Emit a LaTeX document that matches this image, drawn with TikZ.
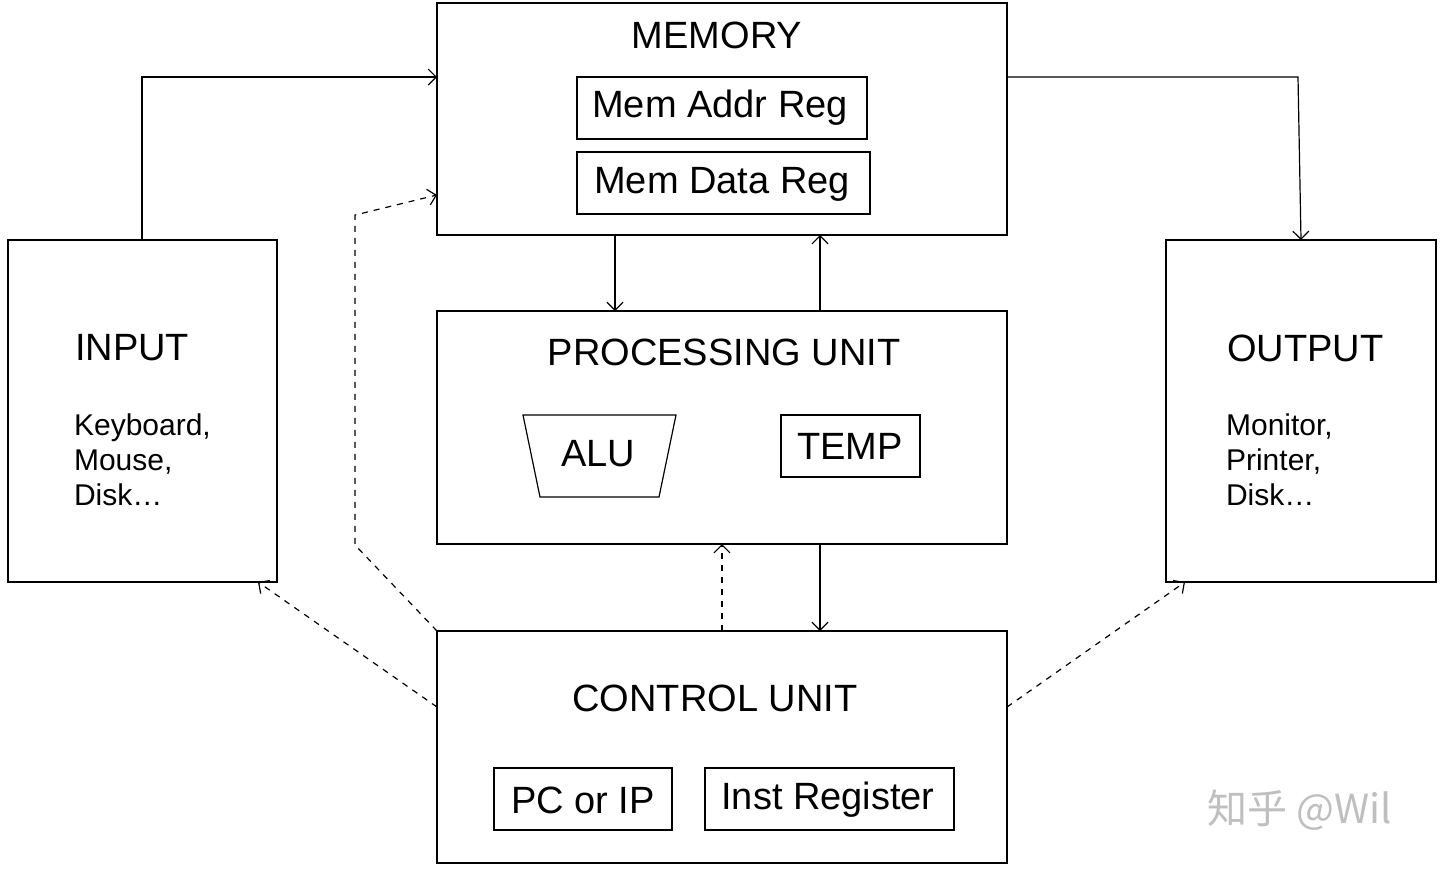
\documentclass[tikz,border=0pt]{standalone}
\usepackage{fontspec}
\setmainfont{Liberation Sans}
\newfontfamily\cjk{Noto Sans CJK SC}
\usetikzlibrary{arrows.meta}
\begin{document}
\begin{tikzpicture}[x=0.5pt,y=-0.5pt,
 box/.style={draw,line width=0.6pt},
 big/.style={font=\fontsize{19}{21}\selectfont},
 small/.style={font=\fontsize{15}{17.5}\selectfont,align=left,anchor=north west},
 arr/.style={-{Straight Barb[length=4pt]},line width=0.6pt},
 darr/.style={arr,dashed}]
\useasboundingbox (0,0) rectangle (1440,869);
\draw[box] (437,3) rectangle (1007,235);
\node[big] (mem) at (717,35) {MEMORY};
\draw[box] (577,77) rectangle (867,139); \node[big] (mar) at (720,108) {Mem Addr Reg};
\draw[box] (577,152) rectangle (870,214); \node[big] (mdr) at (722,184) {Mem Data Reg};
\draw[box] (8,240) rectangle (277,582);
\node[big,anchor=west] (in) at (68,348) {INPUT};
\node[small] (ind) at (67,407) {Keyboard,\\Mouse,\\Disk…};
\draw[box] (1166,240) rectangle (1436,582);
\node[big,anchor=west] (out) at (1220,348) {OUTPUT};
\node[small] (outd) at (1219,407) {Monitor,\\Printer,\\Disk…};
\draw[box] (437,311) rectangle (1007,544);
\node[big] (pu) at (724,352) {PROCESSING UNIT};
\draw[box] (523,415) -- (676,415) -- (659,497) -- (540,497) -- cycle;
\node[big] (alu) at (598,454) {ALU};
\draw[box] (781,415) rectangle (920,477); \node[big] (temp) at (850,446) {TEMP};
\draw[box] (437,631) rectangle (1007,863);
\node[big] (cu) at (715,698) {CONTROL UNIT};
\draw[box] (494,768) rectangle (672,830); \node[big] (pc) at (583,800) {PC or IP};
\draw[box] (705,768) rectangle (954,830); \node[big] (ir) at (828,800) {Inst Register};
\coordinate (a1) at (142,240); \coordinate (a2) at (437,77);
\draw[arr] (a1) |- (a2);
\coordinate (b1) at (1007,77); \coordinate (b2) at (1298,77); \coordinate (b3) at (1301,240);
\draw[arr] (b1) -- (b2) -- (b3);
\coordinate (c1) at (615,235); \coordinate (c2) at (615,311);
\draw[arr] (c1) -- (c2);
\coordinate (d1) at (820,311); \coordinate (d2) at (820,235);
\draw[arr] (d1) -- (d2);
\coordinate (e1) at (820,544); \coordinate (e2) at (820,631);
\draw[arr] (e1) -- (e2);
\coordinate (f1) at (722,631); \coordinate (f2) at (722,544);
\draw[darr] (f1) -- (f2);
\coordinate (g1) at (437,631); \coordinate (g2) at (355,545); \coordinate (g3) at (355,215); \coordinate (g4) at (437,195);
\draw[darr] (g1) -- (g2) -- (g3) -- (g4);
\coordinate (h1) at (437,707); \coordinate (h2) at (258,582);
\draw[darr] (h1) -- (h2);
\coordinate (k1) at (1007,707); \coordinate (k2) at (1185,582);
\draw[darr] (k1) -- (k2);
\node[text=black!25,font=\fontsize{20}{21}\selectfont] (wm) at (1300,810) {\cjk 知乎 @Wil};
\end{tikzpicture}
\end{document}
